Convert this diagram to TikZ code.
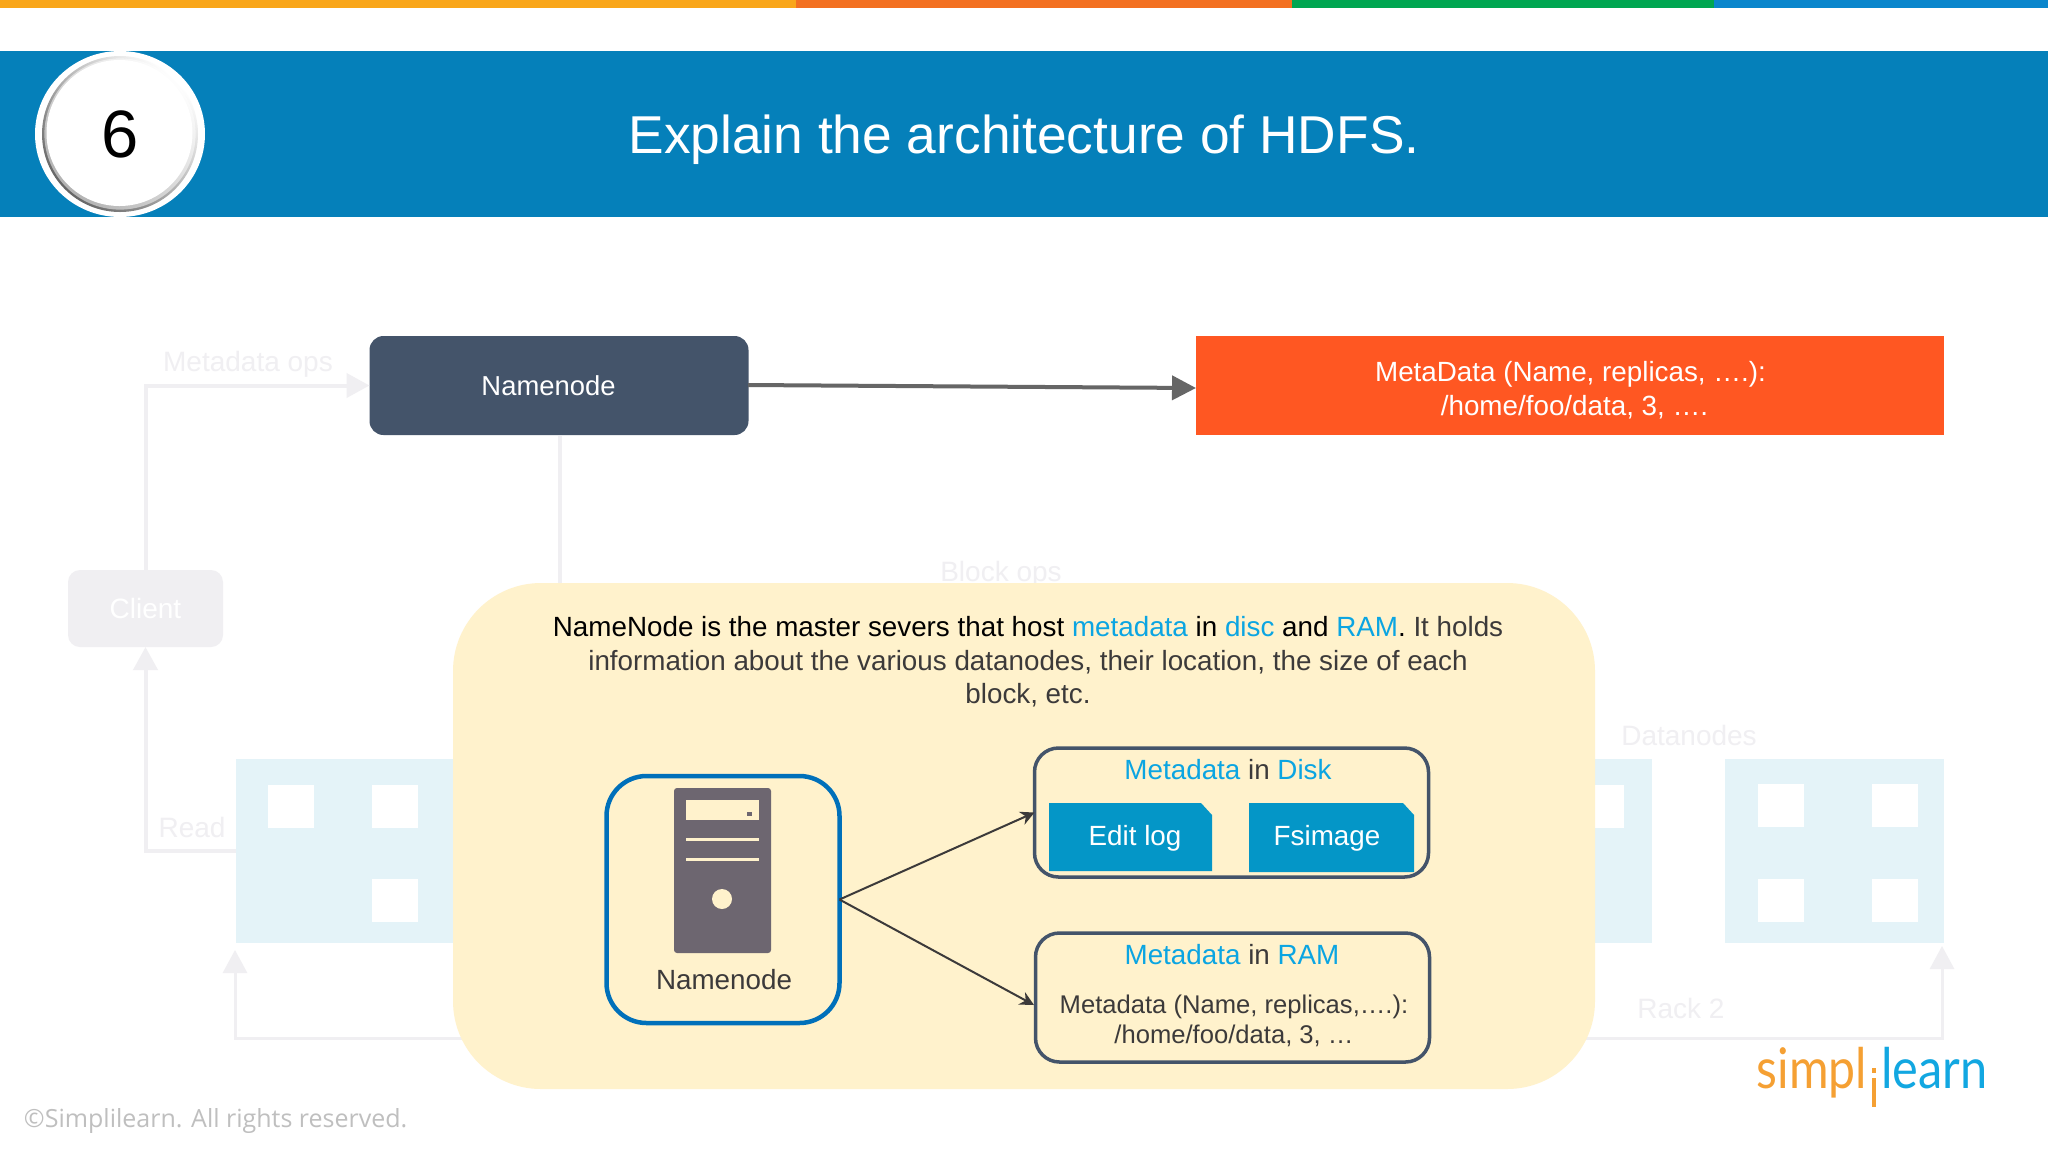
\documentclass[tikz,border=0pt]{standalone}
\usepackage{graphicx}
\usepackage{fontspec}
\setmainfont{Liberation Sans}
\newfontfamily\opensansfont{Open Sans}
\newfontfamily\latofont{Lato}
\usetikzlibrary{arrows.meta,calc,shadings}
\definecolor{barA}{HTML}{F9A61A}
\definecolor{barB}{HTML}{F37021}
\definecolor{barC}{HTML}{00A651}
\definecolor{barD}{HTML}{0A86CC}
\definecolor{headblue}{HTML}{0580BA}
\definecolor{slate}{HTML}{44546A}
\definecolor{meta}{HTML}{FF5722}
\definecolor{faint}{HTML}{F0EFF2}
\definecolor{faintblue}{HTML}{E4F3F8}
\definecolor{cream}{HTML}{FFF2CC}
\definecolor{sky}{HTML}{0BA5E2}
\definecolor{ink}{HTML}{3C3A3A}
\definecolor{docblue}{HTML}{0496C7}
\definecolor{tower}{HTML}{6D6670}
\definecolor{serverblue}{HTML}{0070BA}
\definecolor{logoorange}{HTML}{F5A033}
\definecolor{logoblue}{HTML}{12A7E1}
\newcommand{\bl}[1]{\textcolor{sky}{#1}}
\newcommand{\bk}[1]{\textcolor{black}{#1}}
\tikzset{
 x=0.5pt,y=-0.5pt,
 every node/.style={inner sep=0pt,outer sep=0pt,align=center},
 faintline/.style={draw=faint,line width=2pt},
 faintarrow/.style={faintline,-{Triangle[length=11.5pt,width=12pt]}},
 fainttext/.style={text=faint,font=\fontsize{14}{16}\selectfont},
 rackbox/.style={fill=faintblue},
 hole/.style={fill=white,minimum width=23pt,minimum height=21.5pt},
 slatebox/.style={draw=slate,line width=1.75pt,rounded corners=12pt,minimum width=197pt,minimum height=64.5pt},
 body/.style={font=\fontsize{13.9}{16.7}\selectfont,text=ink},
 thinarrow/.style={draw=ink,line width=1pt,-{Stealth[length=7pt,width=7pt]}},
}
\begin{document}
\begin{tikzpicture}
\useasboundingbox (0,0) rectangle (2048,1152);
\fill[white] (0,0) rectangle (2048,1152);
% top colour bars
\fill[barA] (0,0) rectangle (796,8);
\fill[barB] (796,0) rectangle (1292,8);
\fill[barC] (1292,0) rectangle (1714,8);
\fill[barD] (1714,0) rectangle (2048,8);
% header
\fill[headblue] (0,51) rectangle (2048,217);
\node[text=white,font=\fontsize{26.65}{30}\selectfont] (title) at (1024,140) {Explain the architecture of HDFS.};
% number badge
\fill[white] (120,134) ellipse[x radius=42.5pt,y radius=41.5pt];
\shade[left color=white,right color=black!60,shading angle=-45] (120,134) circle[radius=39pt];
\fill[white,opacity=.5] (120,134) circle[radius=37.8pt];
\fill[white] (119.5,133) circle[radius=36.5pt];
\node[font=\fontsize{33.5}{36}\selectfont,text=black] (num) at (120,134) {6};
% faded background diagram
\node[rackbox,minimum width=140pt,minimum height=92pt] (rackA) at (376,851) {};
\node[rackbox,minimum width=60pt,minimum height=92pt] (rackB) at (1592,851) {};
\node[rackbox,minimum width=109.5pt,minimum height=92pt] (rackC) at (1834.5,851) {};
\node[hole] (h1) at (291,806) {};
\node[hole] (h2) at (395,806) {};
\node[hole] (h3) at (395,900) {};
\node[hole] (h4) at (1601,806) {};
\node[hole] (h5) at (1780.5,805.5) {};
\node[hole] (h6) at (1894.5,805.5) {};
\node[hole] (h7) at (1780.5,900.5) {};
\node[hole] (h8) at (1894.5,900.5) {};
\node[fill=faint,rounded corners=6pt,minimum width=77.5pt,minimum height=38.5pt,text=white,font=\fontsize{14}{16}\selectfont] (client) at (145.5,608.5) {Client};
\coordinate (nndown) at (560,436);
\coordinate (nnbot) at (560,600);
\draw[faintline] (nndown) -- (nnbot);
\node[fill=slate,rounded corners=7pt,minimum width=189.5pt,minimum height=49.5pt,text=white,font=\fontsize{13.7}{16}\selectfont] (nn) at (559,385.5) {\hspace{-10.5pt}Namenode};
\node[fill=meta,minimum width=374pt,minimum height=49.5pt] (md) at (1570,385.5) {};
\node[text=white,font=\fontsize{13.9}{16.6}\selectfont] (mdtext) at (1570.5,390) {MetaData (Name, replicas, ….):\\[0.2pt]\hspace{4pt}/home/foo/data, 3, ….};
\coordinate (mdin) at (1196,388);
\coordinate (nnout) at (748,385);
\coordinate (botmid) at (1024,1038);
\coordinate (tipL) at (235,950);
\coordinate (tipR) at (1942,946);
\draw[faintarrow] (client.north) |- (nn.west);
\draw[faintarrow] (rackA.west) -| (client.south);
\draw[faintarrow,line width=1.5pt] (botmid) -| (tipL);
\draw[faintarrow,line width=1.5pt] (botmid) -| (tipR);
\draw[line width=2pt,-{Triangle[length=12pt,width=12pt]},draw=black!60,fill=black!60] (nnout) -- (mdin);
\node[fainttext] (lmeta) at (248,364) {Metadata ops};
\node[fainttext] (lread) at (192,827) {Read};
\node[fainttext] (lblock) at (1001,574) {Block ops};
\node[fainttext] (ldata) at (1689,735) {Datanodes};
\node[fainttext] (lrack) at (1681,1008) {Rack 2};
% callout
\node[fill=cream,rounded corners=44pt,minimum width=571pt,minimum height=253pt] (call) at (1024,836) {};
\node[body] (calltext) at (1028,662) {\bk{NameNode is the master severs that host} \bl{metadata} \bk{in} \bl{disc} \bk{and} \bl{RAM}\bk{.} It holds\\information about the various datanodes, their location, the size of each\\block, etc.};
% server
\node[draw=serverblue,line width=2.25pt,rounded corners=20pt,minimum width=116.5pt,minimum height=123.5pt] (srv) at (723,899.5) {};
\fill[tower,rounded corners=1.5pt] (674,788) rectangle (771,953);
\fill[cream] (686,800) rectangle (759,820);
\fill[tower] (747,812) rectangle (752,816);
\fill[cream] (686,837.5) rectangle (759,840.5);
\fill[cream] (686,857.5) rectangle (759,860.5);
\fill[cream] (722,899) circle[radius=5pt];
\node[body] (srvlabel) at (724,980) {Namenode};
% disk box
\node[slatebox] (disk) at (1231.5,812.5) {};
\node[body] (disktitle) at (1228,770) {\bl{Metadata} in \bl{Disk}};
\fill[docblue] (1049,803) -- (1201,803) -- (1212,815) -- (1212,871) -- (1049,871) -- cycle;
\fill[docblue] (1249,803) -- (1403,803) -- (1414,815) -- (1414,872) -- (1249,872) -- cycle;
\node[text=white,font=\fontsize{13.9}{16}\selectfont] (editlog) at (1135,838.5) {Edit log};
\node[text=white,font=\fontsize{13.9}{16}\selectfont] (fsimage) at (1327,838.5) {Fsimage};
% ram box
\node[slatebox] (ram) at (1232.5,997.5) {};
\node[body] (ramtitle) at (1232,955) {\bl{Metadata} in \bl{RAM}};
\node[body,font=\fontsize{12.8}{15.3}\selectfont] (ramtext) at (1234,1021) {Metadata (Name, replicas,….):\\/home/foo/data, 3, …};
\coordinate (ramin) at (1034,1005);
\draw[thinarrow] (srv.east) -- (disk.west);
\draw[thinarrow] (srv.east) -- (ramin);
% footer
\node[anchor=west,text=black!25,font=\opensansfont\fontsize{12.5}{15}\selectfont] (copy) at (24,1120.5) {©Simplilearn. All rights reserved.};
\node[anchor=base east,text=logoorange,font=\latofont\fontsize{28}{30}\selectfont] (logoA) at (1867,1088) {\scalebox{0.86}[1]{simpl}};
\node[anchor=base west,text=logoblue,font=\latofont\fontsize{28}{30}\selectfont] (logoB) at (1881,1088) {\scalebox{0.87}[1]{learn}};
\fill[logoorange] (1871.5,1068) rectangle (1876,1073);
\fill[logoorange] (1871.5,1078) rectangle (1876,1107);
\end{tikzpicture}
\end{document}
